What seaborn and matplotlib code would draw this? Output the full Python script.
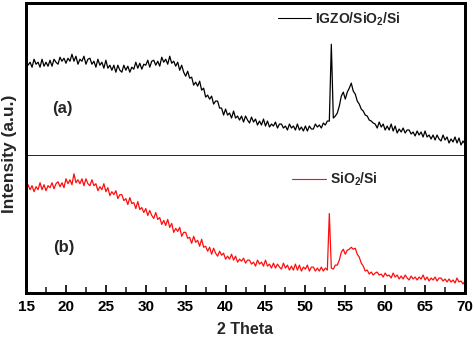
import numpy as np
import pandas as pd
import matplotlib
matplotlib.use("Agg")
import matplotlib.pyplot as plt
import seaborn as sns
from matplotlib.ticker import MultipleLocator
from matplotlib.patches import Rectangle

sns.set_style("ticks")
plt.rcParams['font.family'] = ['Liberation Sans', 'DejaVu Sans']
plt.rcParams['mathtext.fontset'] = 'custom'
plt.rcParams['mathtext.rm'] = 'Liberation Sans:bold'
plt.rcParams['mathtext.bf'] = 'Liberation Sans:bold'

# 2-theta grid (degrees), step 0.25
two_theta = np.arange(15, 70.001, 0.25)

# (a) IGZO/SiO2/Si intensity (a.u.)
igzo = [
    96, 91, 94, 89, 97, 92, 94, 89, 97, 90, 94, 90, 96, 90, 97, 94,
    92, 99, 95, 98, 93, 98, 95, 102, 95, 100, 92, 97, 95, 100, 92, 97,
    98, 92, 95, 89, 97, 91, 94, 88, 96, 88, 91, 86, 91, 84, 91, 86,
    84, 91, 86, 90, 84, 89, 87, 94, 88, 93, 87, 92, 91, 96, 89, 95,
    96, 91, 95, 90, 99, 94, 97, 92, 100, 93, 95, 90, 94, 86, 91, 84,
    80, 85, 78, 79, 71, 74, 70, 75, 66, 68, 59, 61, 57, 60, 52, 55,
    55, 48, 48, 41, 47, 41, 43, 38, 45, 38, 40, 36, 40, 34, 40, 36,
    33, 39, 34, 37, 31, 35, 31, 37, 30, 35, 29, 32, 30, 34, 28, 32,
    32, 28, 30, 26, 32, 28, 30, 26, 32, 26, 29, 25, 30, 25, 30, 27,
    27, 32, 29, 31, 28, 33, 31, 35, 35, 112, 38, 40, 43, 50, 60, 64,
    57, 64, 68, 73, 65, 62, 55, 52, 47, 45, 41, 40, 36, 35, 33, 32,
    28, 34, 29, 32, 26, 30, 26, 32, 25, 30, 23, 27, 24, 28, 23, 26,
    26, 22, 24, 20, 25, 21, 24, 19, 25, 19, 21, 17, 21, 16, 21, 17,
    15, 21, 16, 19, 13, 17, 14, 19, 13, 18, 11, 15, 12,
]

# (b) SiO2/Si intensity (a.u.)
sio2 = [
    102, 109, 104, 108, 102, 107, 104, 111, 104, 109, 103, 108, 106, 111, 105, 110,
    112, 107, 111, 106, 115, 110, 114, 109, 120, 111, 114, 110, 115, 108, 115, 110,
    108, 114, 108, 110, 103, 107, 104, 110, 102, 106, 98, 102, 99, 103, 95, 99,
    99, 93, 95, 89, 96, 90, 91, 85, 92, 84, 86, 81, 85, 78, 83, 78,
    75, 81, 74, 76, 69, 73, 68, 74, 66, 70, 61, 65, 62, 66, 57, 61,
    61, 55, 56, 50, 57, 51, 53, 47, 54, 46, 47, 42, 46, 39, 45, 40,
    37, 42, 38, 40, 34, 37, 34, 39, 33, 37, 31, 34, 32, 35, 30, 33,
    33, 29, 31, 27, 33, 29, 31, 27, 33, 27, 29, 25, 30, 25, 29, 26,
    24, 30, 25, 28, 23, 27, 23, 29, 23, 28, 22, 26, 24, 28, 22, 26,
    26, 22, 25, 22, 26, 22, 25, 23, 80, 25, 24, 28, 28, 33, 41, 44,
    39, 43, 44, 46, 44, 45, 39, 36, 30, 27, 22, 23, 19, 21, 18, 20,
    21, 18, 19, 16, 20, 17, 18, 15, 20, 16, 18, 14, 17, 14, 18, 15,
    13, 17, 14, 16, 13, 16, 14, 18, 13, 16, 12, 15, 13, 16, 12, 15,
    15, 12, 14, 11, 14, 11, 13, 10, 15, 11, 12, 9, 12,
]

x_ticks = [15, 20, 25, 30, 35, 40, 45, 50, 55, 60, 65, 70]
labels = ["IGZO/SiO$_\\mathbf{2}$/Si", "SiO$_\\mathbf{2}$/Si"]
panel_tags = ["(a)", "(b)"]

df_a = pd.DataFrame({"two_theta": two_theta, "intensity": igzo})
df_b = pd.DataFrame({"two_theta": two_theta, "intensity": sio2})

L, R = 0.055, 0.981
B, MID, T = 0.136, 0.540, 0.990

fig = plt.figure(figsize=(4.74, 3.39), dpi=100)
ax_a = fig.add_axes([L, MID, R - L, T - MID])
ax_b = fig.add_axes([L, B, R - L, MID - B], sharex=ax_a)

sns.lineplot(data=df_a, x="two_theta", y="intensity", ax=ax_a,
             color="black", linewidth=0.9, label=labels[0])
sns.lineplot(data=df_b, x="two_theta", y="intensity", ax=ax_b,
             color="#ff0d0d", linewidth=0.9, label=labels[1])

ax_a.set_ylim(0, 153)
ax_b.set_ylim(0, 138)
ax_b.set_xlim(15, 70)

for ax in (ax_a, ax_b):
    ax.set_yticks([])
    ax.set_ylabel("")
    ax.set_xlabel("")
    for s in ax.spines.values():
        s.set_visible(True)
        s.set_linewidth(2.0)
        s.set_color("black")
    ax.tick_params(axis="x", direction="in", width=1.2, color="black")

ax_a.spines["bottom"].set_linewidth(1.2)
ax_b.spines["top"].set_visible(False)
ax_a.tick_params(axis="x", which="both", bottom=False, labelbottom=False)

ax_b.xaxis.set_major_locator(MultipleLocator(5))
ax_b.xaxis.set_minor_locator(MultipleLocator(2.5))
ax_b.tick_params(axis="x", which="major", length=6, labelsize=11, pad=5,
                 labelcolor="black")
ax_b.tick_params(axis="x", which="minor", direction="in", length=4, width=1.2)
ax_b.set_xticks(x_ticks)
for t in ax_b.get_xticklabels():
    t.set_fontweight("bold")

leg_a = ax_a.legend(frameon=False, loc="upper left", bbox_to_anchor=(0.573, 0.955),
                    borderpad=0, borderaxespad=0,
                    prop={"weight": "bold", "size": 10}, handlelength=2.4,
                    handletextpad=0.3)
leg_b = ax_b.legend(frameon=False, loc="upper left", bbox_to_anchor=(0.607, 0.89),
                    borderpad=0, borderaxespad=0,
                    prop={"weight": "bold", "size": 10}, handlelength=2.4,
                    handletextpad=0.3)
for line in leg_a.get_lines():
    line.set_linewidth(0.8)
for line in leg_b.get_lines():
    line.set_linewidth(0.8)

ax_a.text(0.082, 0.31, panel_tags[0], transform=ax_a.transAxes, fontsize=12,
          fontweight="bold", ha="center", va="center")
ax_b.text(0.086, 0.33, panel_tags[1], transform=ax_b.transAxes, fontsize=12,
          fontweight="bold", ha="center", va="center")

# outer frame around both panels
fig.add_artist(Rectangle((L, B), R - L, T - B, transform=fig.transFigure,
                         fill=False, edgecolor="black", linewidth=2.0, zorder=20))

fig.text(0.021, 0.545, "Intensity (a.u.)", rotation=90, ha="center", va="center",
         fontsize=12.5, fontweight="bold")
fig.text(0.517, 0.028, "2 Theta", ha="center", va="center",
         fontsize=11.5, fontweight="bold")

fig.savefig("out.png", dpi=100)
